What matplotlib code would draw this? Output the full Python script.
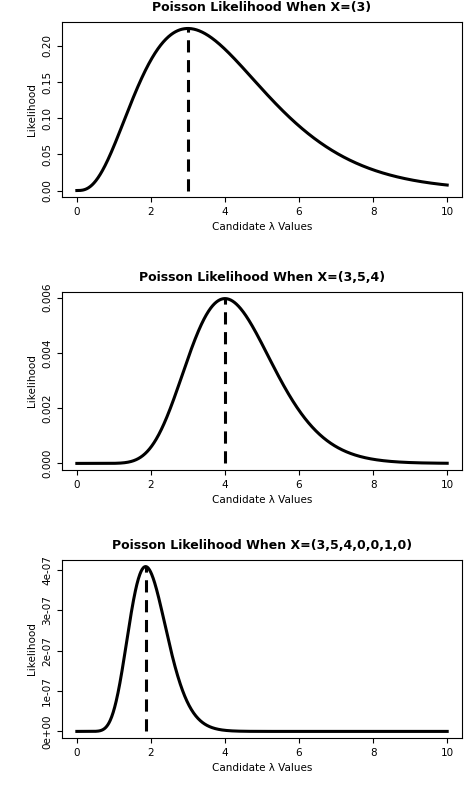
import numpy as np
import matplotlib
matplotlib.use("Agg")
import matplotlib.pyplot as plt
from math import lgamma

samples = [[3], [3, 5, 4], [3, 5, 4, 0, 0, 1, 0]]
titles = ["Poisson Likelihood When X=(3)", "Poisson Likelihood When X=(3,5,4)",
          "Poisson Likelihood When X=(3,5,4,0,0,1,0)"]
yticks = [[0.00, 0.05, 0.10, 0.15, 0.20], [0.000, 0.002, 0.004, 0.006],
          [0, 1e-7, 2e-7, 3e-7, 4e-7]]
ylabels = [["0.00", "0.05", "0.10", "0.15", "0.20"], ["0.000", "0.002", "0.004", "0.006"],
           ["0e+00", "1e-07", "2e-07", "3e-07", "4e-07"]]
lam = np.linspace(0.001, 10, 1000)

fig = plt.figure(figsize=(4.74, 7.98), dpi=100)
boxes = [(22, 197), (292, 470), (560, 738)]
for i, x in enumerate(samples):
    top, bot = boxes[i]
    ax = fig.add_axes([62/474, 1-bot/798, 400/474, (bot-top)/798])
    x = np.array(x)
    logL = -len(x)*lam + x.sum()*np.log(lam) - sum(lgamma(v+1) for v in x)
    L = np.exp(logL)
    ax.plot(lam, L, color="black", lw=2.2)
    mle = x.mean()
    ax.plot([mle, mle], [0, L.max()], color="black", lw=2.2, ls=(0, (4, 2.5)))
    ax.set_xlim(-0.4, 10.4)
    ax.set_ylim(-0.04*L.max(), L.max()*1.04)
    ax.set_xticks([0, 2, 4, 6, 8, 10])
    ax.set_yticks(yticks[i])
    ax.set_yticklabels(ylabels[i], rotation=90, va="center")
    ax.tick_params(labelsize=7.5)
    ax.set_xlabel("Candidate λ Values", fontsize=7.5)
    ax.set_ylabel("Likelihood", fontsize=7.5)
    ax.set_title(titles[i], fontsize=9, fontweight="bold", pad=8)
fig.savefig("out.png", dpi=100)
